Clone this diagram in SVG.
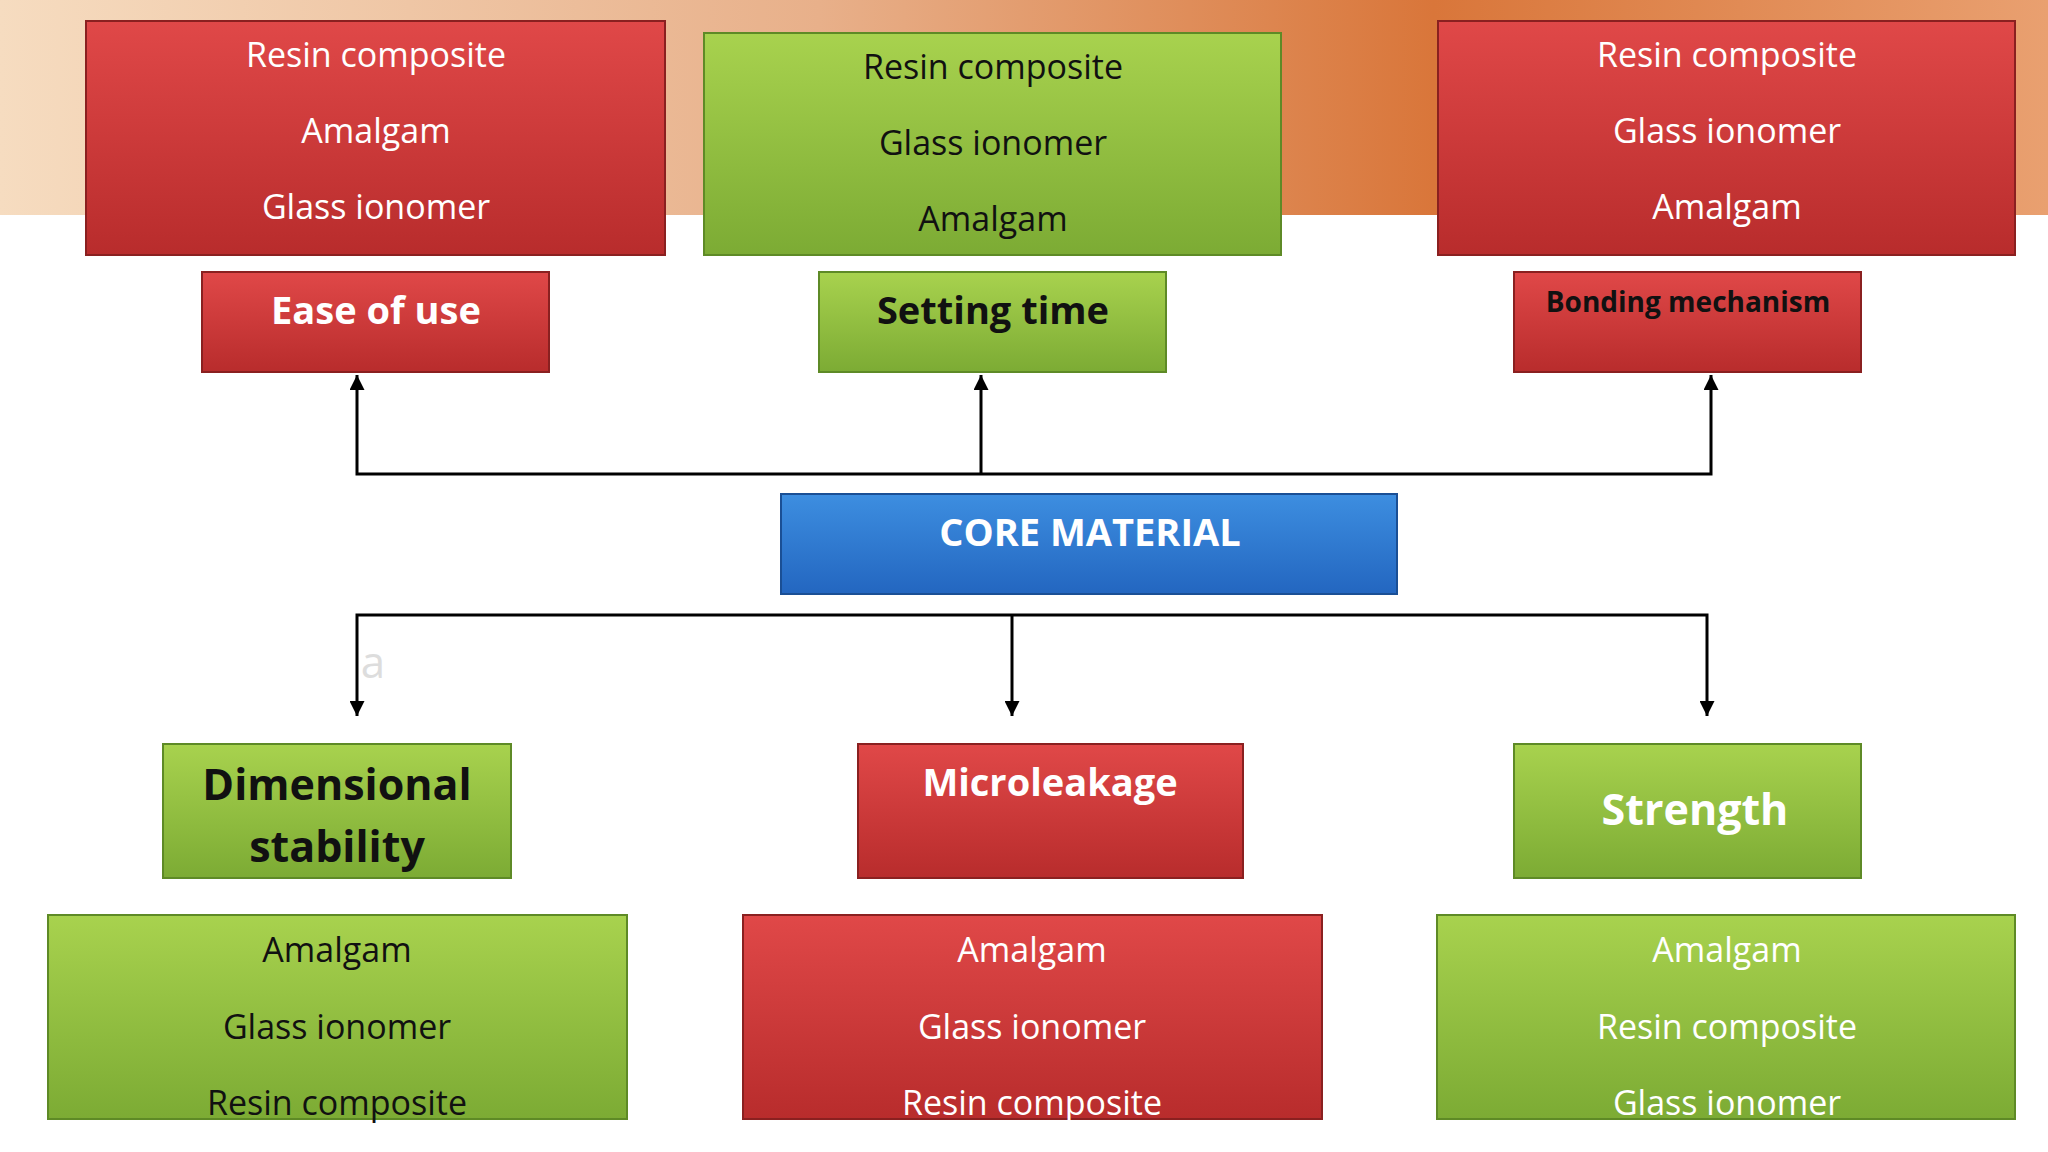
<svg xmlns="http://www.w3.org/2000/svg" width="2048" height="1152" viewBox="0 0 2048 1152">
<defs>
<linearGradient id="bg" x1="0" y1="0" x2="1" y2="0"><stop offset="0" stop-color="#f6dcc0"/><stop offset="0.4" stop-color="#e8b08a"/><stop offset="0.7" stop-color="#d9763a"/><stop offset="1" stop-color="#e9a070"/></linearGradient>
<linearGradient id="red" x1="0" y1="0" x2="0" y2="1"><stop offset="0" stop-color="#e04848"/><stop offset="1" stop-color="#b82c2c"/></linearGradient>
<linearGradient id="green" x1="0" y1="0" x2="0" y2="1"><stop offset="0" stop-color="#a8d24e"/><stop offset="1" stop-color="#7cab34"/></linearGradient>
<linearGradient id="blue" x1="0" y1="0" x2="0" y2="1"><stop offset="0" stop-color="#3d8ee0"/><stop offset="1" stop-color="#2366c0"/></linearGradient>
<marker id="ah" viewBox="0 0 10 10" refX="10" refY="5" markerWidth="5" markerHeight="5" orient="auto-start-reverse"><path d="M0,0 L10,5 L0,10 z" fill="#000"/></marker>
<style>
.r{fill:url(#red);stroke:#8a2020;stroke-width:2}
.g{fill:url(#green);stroke:#5e8a26;stroke-width:2}
.b{fill:url(#blue);stroke:#1a4f95;stroke-width:2}
text{font-family:"Open Sans","Liberation Sans",sans-serif;text-anchor:middle}
.w{fill:#fff;font-size:34px}
.k{fill:#111;font-size:34px}
.tw{fill:#fff;font-size:38px;font-weight:bold}
.tk{fill:#111;font-size:38px;font-weight:bold}
.c{fill:none;stroke:#000;stroke-width:3}
</style>
</defs>
<rect width="2048" height="1152" fill="#fff"/>
<rect width="2048" height="215" fill="url(#bg)"/>
<g id="top-left"><rect class="r" x="86" y="21" width="579" height="234"/><text class="w" x="376" y="67">Resin composite</text><text class="w" x="376" y="143">Amalgam</text><text class="w" x="376" y="219">Glass ionomer</text></g>
<g id="top-mid"><rect class="g" x="704" y="33" width="577" height="222"/><text class="k" x="993" y="79">Resin composite</text><text class="k" x="993" y="155">Glass ionomer</text><text class="k" x="993" y="231">Amalgam</text></g>
<g id="top-right"><rect class="r" x="1438" y="21" width="577" height="234"/><text class="w" x="1727" y="67">Resin composite</text><text class="w" x="1727" y="143">Glass ionomer</text><text class="w" x="1727" y="219">Amalgam</text></g>
<g id="ease"><rect class="r" x="202" y="272" width="347" height="100"/><text class="tw" x="376" y="324">Ease of use</text></g>
<g id="setting"><rect class="g" x="819" y="272" width="347" height="100"/><text class="tk" x="993" y="324">Setting time</text></g>
<g id="bonding"><rect class="r" x="1514" y="272" width="347" height="100"/><text x="1688" y="312" style="fill:#111;font-size:28px;font-weight:bold">Bonding mechanism</text></g>
<g id="core"><rect class="b" x="781" y="494" width="616" height="100"/><text class="tw" x="1090" y="546">CORE MATERIAL</text></g>
<g id="dim"><rect class="g" x="163" y="744" width="348" height="134"/><text class="tk" x="337" y="800" style="font-size:43px">Dimensional</text><text class="tk" x="337" y="862" style="font-size:43px">stability</text></g>
<g id="micro"><rect class="r" x="858" y="744" width="385" height="134"/><text class="tw" x="1050" y="796">Microleakage</text></g>
<g id="strength"><rect class="g" x="1514" y="744" width="347" height="134"/><text class="tw" x="1695" y="825" style="font-size:43px">Strength</text></g>
<g id="bot-left"><rect class="g" x="48" y="915" width="579" height="204"/><text class="k" x="337" y="962">Amalgam</text><text class="k" x="337" y="1039">Glass ionomer</text><text class="k" x="337" y="1115">Resin composite</text></g>
<g id="bot-mid"><rect class="r" x="743" y="915" width="579" height="204"/><text class="w" x="1032" y="962">Amalgam</text><text class="w" x="1032" y="1039">Glass ionomer</text><text class="w" x="1032" y="1115">Resin composite</text></g>
<g id="bot-right"><rect class="g" x="1437" y="915" width="578" height="204"/><text class="w" x="1727" y="962">Amalgam</text><text class="w" x="1727" y="1039">Resin composite</text><text class="w" x="1727" y="1115">Glass ionomer</text></g>
<text x="373" y="678" style="fill:#ddd;font-size:44px">a</text>
<g id="connectors">
<polyline class="c" points="357,375 357,474 1711,474 1711,375" marker-start="url(#ah)" marker-end="url(#ah)"/>
<line class="c" x1="981" y1="474" x2="981" y2="375" marker-end="url(#ah)"/>
<polyline class="c" points="357,716 357,615 1707,615 1707,716" marker-start="url(#ah)" marker-end="url(#ah)"/>
<line class="c" x1="1012" y1="615" x2="1012" y2="716" marker-end="url(#ah)"/>
</g>
</svg>
